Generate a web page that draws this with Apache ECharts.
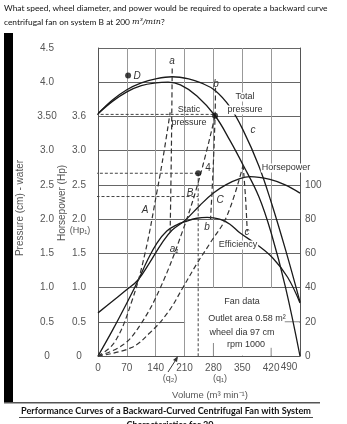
<!DOCTYPE html>
<html><head><meta charset="utf-8">
<script src="https://cdn.jsdelivr.net/npm/echarts@6/dist/echarts.min.js"></script>
<style>html,body{margin:0;padding:0;background:#fff}#c{width:347px;height:424px}</style>
</head><body><div id="c"></div>
<script>
// ---- data (volume m3/min, pressure cm water, horsepower, efficiency %) ----
const volumeTicks = [0, 70, 140, 210, 280, 350, 420, 490];
const pressureTickLabels = ['0', '0.5', '1.0', '1.5', '2.0', '2.5', '3.0', '3.50', '4.0', '4.5'];
const hpTickLabels = ['0', '0.5', '1.0', '1.5', '2.0', '2.5', '3.0', '3.6', '', ''];
const effTickLabels = ['0', '20', '40', '60', '80', '100'];

const staticPressure = [[0,3.54],[35,3.72],[70,3.86],[105,3.95],[140,3.99],[170,4.0],[200,3.96],[240,3.8],[284,3.51],[320,3.15],[352,2.79],[390,2.33],[420,1.8],[455,1.0],[490,0]];
const totalPressure = [[0,3.54],[35,3.74],[70,3.89],[105,3.99],[140,4.05],[180,4.08],[220,4.05],[250,3.99],[284,3.88],[320,3.64],[352,3.3],[390,2.78],[420,2.25],[455,1.55],[490,0.79]];
const efficiency = [[0,0],[35,15],[70,31],[97,44],[120,56],[143,66],[167,73],[190,76.5],[211,78.5],[240,80.5],[265,81],[295,80],[320,77],[344,72],[386,65],[425,57],[460,46],[490,31]];
const horsepower = [[0,0.63],[35,0.8],[70,0.97],[97,1.11],[125,1.36],[155,1.65],[180,1.84],[211,1.98],[247,2.2],[280,2.38],[310,2.5],[344,2.59],[369,2.62],[417,2.58],[454,2.5],[490,2.38]];

const systemA = [[0,0],[40,0.2],[82,0.8],[114,1.5],[143,2.4],[160,2.98],[175,3.56]];
const systemB = [[0,0],[60,0.16],[102,0.45],[150,0.98],[206,1.84],[247,2.62],[284,3.51]];
const systemC = [[0,0],[80,0.12],[126,0.34],[170,0.64],[206,1.0],[240,1.35],[272,1.65],[313,2.05],[352,2.79]];
const lineA = [[180,4.2],[178,3.0],[175,1.8]];
const lineB = [[285,3.92],[284,3.51],[279,2.7],[273,2.0]];
const lineC = [[352,2.79],[358,2.3],[362,1.82]];

const refStatic = [[-30,3.53],[284,3.53]];
const refHp4 = [[-44,2.67],[243,2.67]];
const refHpB = [[-40,2.33],[243,2.33]];
const refVolume = [[243,2.67],[243,0]];

const pointD = [[73,4.1]];
const pointOp = [[284,3.51]];
const point4 = [[243,2.67]];

const stub280 = [[280,0],[280,0.19]];
const stub420 = [[420,0],[420,0.12]];
const leader = [[453,0.5],[490,0.5]];

// ---- chart ----
const FONT = 'Liberation Sans';
const chart = echarts.init(document.getElementById('c'), null, {renderer: 'canvas'});
const solid = (name, data, yi) => ({name, type:'line', data, yAxisIndex: yi||0, smooth:0.4, symbol:'none', z:3,
  lineStyle:{color:'#1a1a1a', width:1.3}});
const dashed = (name, data, smooth) => ({name, type:'line', data, smooth: smooth?0.4:false, symbol:'none', z:3,
  lineStyle:{color:'#333', width:1.2, type:[5,3]}});
const dotted = (name, data) => ({name, type:'line', data, symbol:'none', clip:false, z:3,
  lineStyle:{color:'#444', width:1, type:[3,2]}});
const gridPiece = (name, data) => ({name, type:'line', data, symbol:'none', z:1.5,
  lineStyle:{color:'#888', width:1}});
const dot = (name, data) => ({name, type:'scatter', data, symbolSize:6, z:4, itemStyle:{color:'#111'}});

const option = {
  animation:false,
  backgroundColor:'#fff',
  grid:{left:98, right:47, top:48, bottom:68},
  xAxis:{type:'value', min:0, max:490, interval:70,
    axisLine:{show:true, lineStyle:{color:'#555', width:1}}, axisTick:{show:false},
    splitLine:{show:true, lineStyle:{color:'#999', width:1}},
    axisLabel:{margin:7, fontSize:10, color:'#555', fontFamily:FONT,
      formatter:v => v===490 ? '' : String(volumeTicks[Math.round(v/70)])}},
  yAxis:[
    {type:'value', min:0, max:4.5, interval:0.5, position:'left',
      axisLine:{show:true, lineStyle:{color:'#555'}}, axisTick:{show:false},
      splitLine:{show:true, lineStyle:{color:'#666', width:1}},
      axisLabel:{margin:51, align:'center', fontSize:10, color:'#555', fontFamily:FONT,
        formatter:v => pressureTickLabels[Math.round(v/0.5)]}},
    {type:'value', min:0, max:4.5, interval:0.5, position:'left',
      axisLine:{show:false}, axisTick:{show:false}, splitLine:{show:false},
      axisLabel:{margin:19, align:'center', fontSize:10, color:'#555', fontFamily:FONT,
        formatter:v => hpTickLabels[Math.round(v/0.5)]}},
    {type:'value', min:0, max:180, interval:20, position:'right',
      axisLine:{show:true, lineStyle:{color:'#555'}}, axisTick:{show:false}, splitLine:{show:false},
      axisLabel:{margin:5, align:'left', fontSize:10, color:'#555', fontFamily:FONT,
        formatter:v => (v<=100 ? effTickLabels[Math.round(v/20)] : '')}}
  ],
  series:[
    gridPiece('stub280', stub280), gridPiece('stub420', stub420), gridPiece('leader', leader),
    solid('Static pressure', staticPressure),
    solid('Total pressure', totalPressure),
    solid('Efficiency', efficiency, 2),
    solid('Horsepower', horsepower, 1),
    dashed('System A', systemA, true),
    dashed('System b', systemB, true),
    dashed('System C', systemC, true),
    dashed('a', lineA, true),
    dashed('b', lineB, true),
    dashed('c', lineC, true),
    dotted('refStatic', refStatic),
    dotted('refHp4', refHp4),
    dotted('refHpB', refHpB),
    dotted('refVolume', refVolume),
    dot('D', pointD), dot('op', pointOp), dot('4', point4)
  ]
};
chart.setOption(option);

const px = (x, y) => chart.convertToPixel({gridIndex:0}, [x, y]);
const b1 = px(210, 1.0), b2 = px(490, 0);
const T = (text, x, y, o) => Object.assign({type:'text', x, y, z:5, style:Object.assign({text, fill:'#333', font:'9px "Liberation Sans"', textAlign:'center', textVerticalAlign:'middle'}, (o&&o.style)||{})}, o&&o.extra||{});
const I = (text, x, y) => T(text, x, y, {style:{font:'italic 10px "Liberation Sans"'}});
const bg = {backgroundColor:'#fff', padding:[0,1]};

chart.setOption({graphic:[
  // white fan-data box (hides grid lines only)
  {type:'rect', z:1, shape:{x:b1[0]+0.5, y:b1[1]+0.5, width:b2[0]-b1[0]-1, height:b2[1]-b1[1]-1}, style:{fill:'#fff'}},
  // frame decorations
  {type:'rect', z:5, shape:{x:4, y:33, width:9, height:370}, style:{fill:'#000'}},
  {type:'rect', z:5, shape:{x:4, y:402, width:316, height:1.6}, style:{fill:'#555'}},
  // question
  {type:'text', x:4, y:8, z:5, style:{text:'What speed, wheel diameter, and power would be required to operate a backward curve', fill:'#111', font:'8.4px Lato', textVerticalAlign:'middle'}},
  {type:'text', x:4, y:22, z:5, style:{text:'centrifugal fan on system B at 200 {m|m³/min}?', fill:'#111', font:'8.4px Lato', textVerticalAlign:'middle',
     rich:{m:{fontStyle:'italic', fontFamily:'DejaVu Serif', fontSize:8, fill:'#111'}}}},
  // caption
  {type:'text', x:166, y:411, z:5, style:{text:'Performance Curves of a Backward-Curved Centrifugal Fan with System', fill:'#111', font:'bold 9.1px Lato', textAlign:'center', textVerticalAlign:'middle'}},
  {type:'rect', z:5, shape:{x:19, y:417, width:294, height:0.8}, style:{fill:'#111'}},
  {type:'text', x:170, y:421, z:5, style:{text:'Characteristics for 30', fill:'#111', font:'bold 9.1px Lato', textAlign:'center', textVerticalAlign:'top'}},
  // axis titles
  {type:'text', x:20, y:208, rotation:Math.PI/2, z:5, style:{text:'Pressure (cm) - water', fill:'#555', font:'10px "Liberation Sans"', textAlign:'center', textVerticalAlign:'middle'}},
  {type:'text', x:62, y:203, rotation:Math.PI/2, z:5, style:{text:'Horsepower (Hp)', fill:'#555', font:'10px "Liberation Sans"', textAlign:'center', textVerticalAlign:'middle'}},
  T('(Hp₁)', 80, 231, {style:{fill:'#555', font:'9px "Liberation Sans"'}}),
  T('490', 289, 367, {style:{fill:'#555', font:'10px "Liberation Sans"'}}),
  T('(q₂)', 170, 379, {style:{fill:'#555', font:'9px "Liberation Sans"'}}),
  T('(q₁)', 220, 379, {style:{fill:'#555', font:'9px "Liberation Sans"'}}),
  T('Volume (m³ min⁻¹)', 210, 395, {style:{fill:'#555', font:'9.5px "Liberation Sans"'}}),
  {type:'polyline', z:5, shape:{points:[[168,372],[177,358]]}, style:{stroke:'#333', lineWidth:1, fill:null}},
  {type:'polygon', z:5, shape:{points:[[178,356],[173,360],[177,362]]}, style:{fill:'#333'}},
  // curve labels
  T('Total', 245, 97, {style:Object.assign({}, bg)}),
  T('pressure', 245, 110, {style:Object.assign({}, bg)}),
  T('Static', 189, 110),
  T('pressure', 189, 123),
  T('Horsepower', 286, 168, {style:Object.assign({}, bg)}),
  T('Efficiency', 238, 245, {style:Object.assign({}, bg)}),
  T('Fan data', 242, 302),
  T('Outlet area 0.58 m²', 247, 319),
  T('wheel dia 97 cm', 242, 333),
  T('rpm 1000', 246, 345),
  I('a', 172, 61), I('b', 216, 84), I('c', 253, 130), I('D', 137, 76), T('4', 208, 168, {style:{font:'10px "Liberation Sans"'}}),
  I('A', 145, 210), I('B', 190, 193), I('C', 220, 200),
  I('a₁', 174, 249), I('b', 207, 227), I('c', 247, 232)
]});
</script>
</body></html>
